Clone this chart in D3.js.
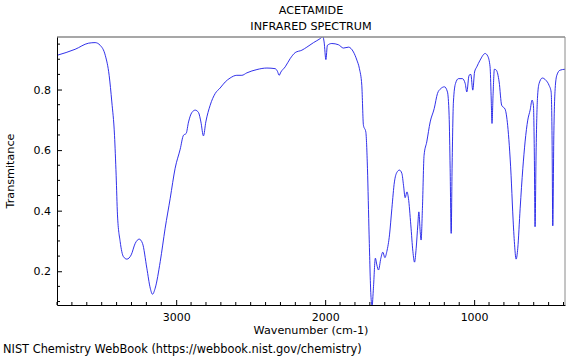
<!DOCTYPE html>
<html><head><meta charset="utf-8">
<script src="https://cdn.jsdelivr.net/npm/d3@7"></script>
<style>body{margin:0;background:#fff}svg{display:block}text{font-family:"DejaVu Sans",sans-serif;fill:#000}</style>
</head><body><svg id="c" width="570" height="357"></svg>
<script>
const wavenumbers = [3800,3678,3589,3544,3510,3476,3450,3432,3414,3403,3394,3376,3354,3331,3302,3275,3248,3226,3197,3174,3159,3141,3107,3074,3040,3007,2973,2951,2933,2917,2895,2872,2850,2834,2817,2801,2772,2738,2705,2671,2638,2593,2559,2526,2458,2391,2336,2320,2309,2297,2268,2235,2201,2156,2123,2078,2034,2015,2007,1995,1985,1955,1911,1877,1843,1810,1787,1770,1754,1743,1727,1716,1705,1693,1685,1676,1663,1653,1642,1626,1613,1599,1586,1568,1552,1535,1519,1501,1485,1474,1463,1451,1441,1425,1411,1400,1389,1378,1371,1362,1356,1347,1336,1318,1295,1268,1246,1224,1199,1179,1168,1161,1154,1148,1139,1125,1105,1079,1060,1049,1034,1022,1009,997,982,960,926,909,893,886,880,873,864,851,832,815,792,775,764,752,741,730,718,707,691,673,658,640,624,611,602,596,591,584,575,564,542,519,497,483,477,472,465,456,445,423,390];
const transmittance = [0.913,0.933,0.953,0.955,0.946,0.913,0.847,0.759,0.649,0.517,0.386,0.298,0.248,0.240,0.254,0.292,0.306,0.292,0.210,0.144,0.124,0.144,0.232,0.342,0.441,0.540,0.603,0.649,0.655,0.693,0.724,0.732,0.724,0.693,0.647,0.693,0.748,0.787,0.805,0.825,0.838,0.847,0.847,0.855,0.866,0.871,0.869,0.860,0.847,0.858,0.875,0.902,0.922,0.930,0.940,0.955,0.968,0.975,0.957,0.899,0.946,0.952,0.948,0.937,0.940,0.924,0.897,0.869,0.814,0.682,0.660,0.540,0.320,0.122,0.085,0.144,0.243,0.221,0.204,0.243,0.263,0.245,0.265,0.320,0.408,0.495,0.526,0.534,0.523,0.484,0.443,0.462,0.441,0.353,0.265,0.230,0.276,0.353,0.396,0.331,0.303,0.408,0.583,0.627,0.693,0.737,0.787,0.803,0.809,0.792,0.715,0.540,0.325,0.540,0.759,0.820,0.836,0.836,0.820,0.792,0.847,0.850,0.798,0.858,0.875,0.897,0.919,0.911,0.875,0.781,0.688,0.781,0.867,0.864,0.825,0.748,0.735,0.682,0.616,0.517,0.396,0.298,0.240,0.276,0.408,0.540,0.627,0.699,0.732,0.765,0.748,0.594,0.347,0.594,0.770,0.820,0.838,0.831,0.814,0.792,0.649,0.350,0.649,0.803,0.847,0.864,0.867];
const xMajorTicks = [3000,2000,1000];
const yMajorTicks = [0.2,0.4,0.6,0.8];
const titleLines = ["ACETAMIDE","INFRARED SPECTRUM"];

const svg = d3.select("#c");
const L=57, R=565, T=37, B=305;
const x = d3.scaleLinear().domain([3800,390]).range([L,R]);
const y = d3.scaleLinear().domain([0.0885,0.9735]).range([B,T]);

svg.append("clipPath").attr("id","pc").append("rect").attr("x",L).attr("y",T).attr("width",R-L).attr("height",B-T);

const data = wavenumbers.map((w,i)=>[w,transmittance[i]]);
svg.append("path").datum(data)
  .attr("clip-path","url(#pc)")
  .attr("fill","none").attr("stroke","#1a1ae6").attr("stroke-width",0.9)
  .attr("d", d3.line().x(d=>x(d[0])).y(d=>y(d[1])).curve(d3.curveMonotoneX));

// frame
svg.append("line").attr("x1",L).attr("x2",R).attr("y1",T).attr("y2",T).attr("stroke","#8a8a8a").attr("stroke-width",1.5);
svg.append("line").attr("x1",R).attr("x2",R).attr("y1",T).attr("y2",B).attr("stroke","#8a8a8a").attr("stroke-width",1);

// x axis
const xMinor = d3.range(3800,389,-100).filter(v=>!xMajorTicks.includes(v));
const gx = svg.append("g").attr("transform",`translate(0,${B})`);
gx.call(d3.axisBottom(x).tickValues(xMajorTicks).tickFormat(d3.format("d")).tickSizeInner(-5).tickSizeOuter(0).tickPadding(8));
gx.selectAll(".minor").data(xMinor).enter().append("line").attr("x1",d=>x(d)).attr("x2",d=>x(d)).attr("y1",0).attr("y2",-3).attr("stroke","#000");
gx.select(".domain").attr("stroke","#000");
gx.selectAll("text").attr("font-size",11).attr("font-family","DejaVu Sans");

// y axis
const yMinor = d3.range(0.1,0.97,0.05).map(v=>+v.toFixed(2)).filter(v=>!yMajorTicks.some(m=>Math.abs(m-v)<1e-6));
const gy = svg.append("g").attr("transform",`translate(${L},0)`);
gy.call(d3.axisLeft(y).tickValues(yMajorTicks).tickFormat(d3.format(".1f")).tickSizeInner(-5).tickSizeOuter(0).tickPadding(6));
gy.selectAll(".minor").data(yMinor).enter().append("line").attr("x1",0).attr("x2",3).attr("y1",d=>y(d)).attr("y2",d=>y(d)).attr("stroke","#000");
gy.selectAll("text").attr("font-size",11).attr("font-family","DejaVu Sans");

// titles
svg.selectAll(".title").data(titleLines).enter().append("text")
  .attr("x",(L+R)/2).attr("y",(d,i)=>14+i*16).attr("text-anchor","middle").attr("font-size",11.2).text(d=>d);
svg.append("text").attr("x",(L+R)/2).attr("y",334).attr("text-anchor","middle").attr("font-size",11.2).text("Wavenumber (cm-1)");
svg.append("text").attr("transform","translate(14,171) rotate(-90)").attr("text-anchor","middle").attr("font-size",11.2).text("Transmitance");
svg.append("text").attr("x",3).attr("y",353).attr("font-size",11.4).text("NIST Chemistry WebBook (https://webbook.nist.gov/chemistry)");
</script></body></html>
